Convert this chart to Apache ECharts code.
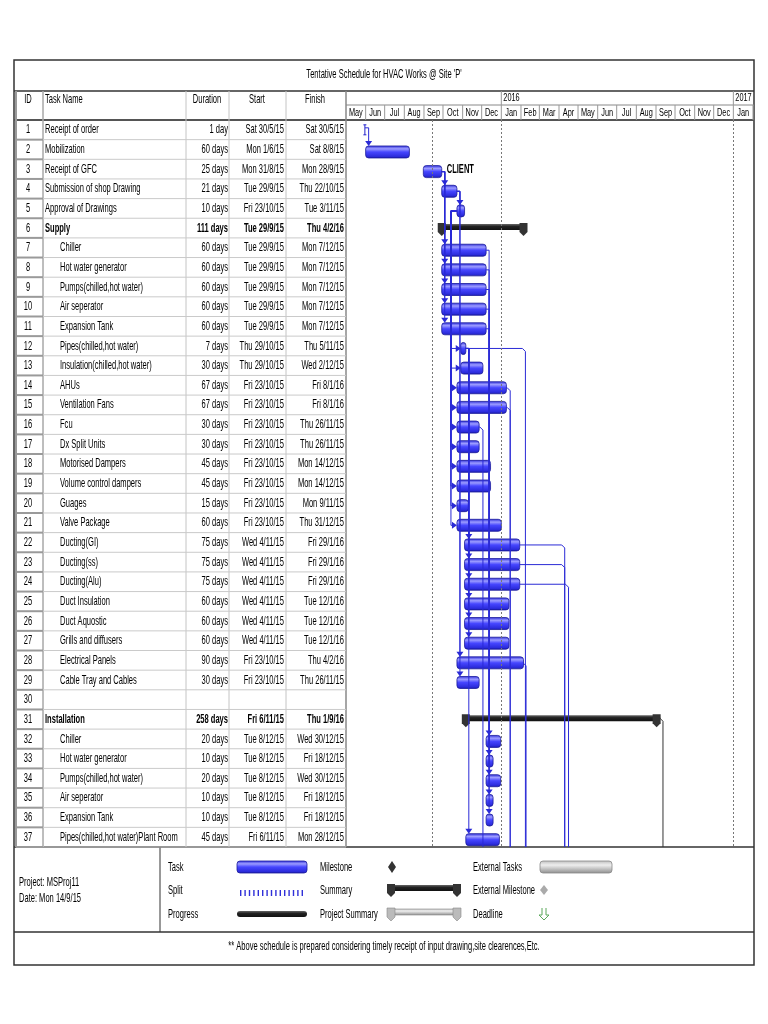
<!DOCTYPE html>
<html><head><meta charset="utf-8">
<script src="https://cdn.jsdelivr.net/npm/echarts@6/dist/echarts.min.js"></script>
<style>html,body{margin:0;padding:0;background:#fff}#c{width:768px;height:1024px}</style>
</head><body><div id="c"></div>
<script>
// ---------------- DATA ----------------
const title = "Tentative Schedule for HVAC Works @ Site 'P'";
const ids = ['1','2','3','4','5','6','7','8','9','10','11','12','13','14','15','16','17','18','19','20','21','22','23','24','25','26','27','28','29','30','31','32','33','34','35','36','37'];
const names = ['Receipt of order','Mobilization','Receipt of GFC','Submission of shop Drawing','Approval of Drawings','Supply',
 'Chiller','Hot water generator','Pumps(chilled,hot water)','Air seperator','Expansion Tank','Pipes(chilled,hot water)',
 'Insulation(chilled,hot water)','AHUs','Ventilation Fans','Fcu','Dx Split Units','Motorised Dampers','Volume control dampers',
 'Guages','Valve Package','Ducting(GI)','Ducting(ss)','Ducting(Alu)','Duct Insulation','Duct Aquostic','Grills and diffusers',
 'Electrical Panels','Cable Tray and Cables','','Installation','Chiller','Hot water generator','Pumps(chilled,hot water)',
 'Air seperator','Expansion Tank','Pipes(chilled,hot water)Plant Room'];
const levels = [0,0,0,0,0,0,1,1,1,1,1,1,1,1,1,1,1,1,1,1,1,1,1,1,1,1,1,1,1,0,0,1,1,1,1,1,1];
const summaryRows = [6,31];
const durations = ['1 day','60 days','25 days','21 days','10 days','111 days','60 days','60 days','60 days','60 days','60 days',
 '7 days','30 days','67 days','67 days','30 days','30 days','45 days','45 days','15 days','60 days','75 days','75 days','75 days',
 '60 days','60 days','60 days','90 days','30 days','','258 days','20 days','10 days','20 days','10 days','10 days','45 days'];
const starts = ['Sat 30/5/15','Mon 1/6/15','Mon 31/8/15','Tue 29/9/15','Fri 23/10/15','Tue 29/9/15','Tue 29/9/15','Tue 29/9/15',
 'Tue 29/9/15','Tue 29/9/15','Tue 29/9/15','Thu 29/10/15','Thu 29/10/15','Fri 23/10/15','Fri 23/10/15','Fri 23/10/15',
 'Fri 23/10/15','Fri 23/10/15','Fri 23/10/15','Fri 23/10/15','Fri 23/10/15','Wed 4/11/15','Wed 4/11/15','Wed 4/11/15',
 'Wed 4/11/15','Wed 4/11/15','Wed 4/11/15','Fri 23/10/15','Fri 23/10/15','','Fri 6/11/15','Tue 8/12/15','Tue 8/12/15',
 'Tue 8/12/15','Tue 8/12/15','Tue 8/12/15','Fri 6/11/15'];
const finishes = ['Sat 30/5/15','Sat 8/8/15','Mon 28/9/15','Thu 22/10/15','Tue 3/11/15','Thu 4/2/16','Mon 7/12/15','Mon 7/12/15',
 'Mon 7/12/15','Mon 7/12/15','Mon 7/12/15','Thu 5/11/15','Wed 2/12/15','Fri 8/1/16','Fri 8/1/16','Thu 26/11/15','Thu 26/11/15',
 'Mon 14/12/15','Mon 14/12/15','Mon 9/11/15','Thu 31/12/15','Fri 29/1/16','Fri 29/1/16','Fri 29/1/16','Tue 12/1/16','Tue 12/1/16',
 'Tue 12/1/16','Thu 4/2/16','Thu 26/11/15','','Thu 1/9/16','Wed 30/12/15','Fri 18/12/15','Wed 30/12/15','Fri 18/12/15',
 'Fri 18/12/15','Mon 28/12/15'];
const resources = {3:'CLIENT'};
const fsLinks = [[1,2],[3,4],[4,5],[3,7],[3,8],[3,9],[3,10],[3,11],[4,28],[4,29],[12,22],[12,23],[12,24],[12,25],[12,26],[12,27],[12,37],[7,32],[8,33],[9,34],[10,35],[11,36]];
const ssLinks = [[5,12],[5,13],[5,14],[5,15],[5,16],[5,17],[5,18],[5,19],[5,20],[5,21]];
const exitLinks = [[12,'2016-02-08'],[28,'2016-02-09'],[14,'2016-01-15'],[15,'2016-01-15'],[16,'2015-12-03'],[22,'2016-04-10'],[23,'2016-04-10'],[24,'2016-04-16'],[31,'2016-09-12']];
const monthLabels = ['May','Jun','Jul','Aug','Sep','Oct','Nov','Dec','Jan','Feb','Mar','Apr','May','Jun','Jul','Aug','Sep','Oct','Nov','Dec','Jan'];
const yearLabels = ['','2016','2017'];
const yearStarts = ['2015-05-01','2016-01-01','2017-01-01'];
const markerDates = ['2015-09-14','2016-01-01','2017-01-01'];
const axisStart = '2015-05-01', axisEnd = '2017-02-01';
const projectInfo = ['Project: MSProj11','Date: Mon 14/9/15'];
const footnote = '** Above schedule is prepared considering timely receipt of input drawing,site clearences,Etc.';

// ---------------- HELPERS ----------------
function ms(s){const p=s.split('-');return new Date(+p[0],+p[1]-1,+p[2]).getTime();}
function parseD(s,plus){const p=s.split(' ')[1].split('/');return new Date(2000+ +p[2],+p[1]-1,+p[0]+(plus||0)).getTime();}
const xMin = ms(axisStart), xMax = ms(axisEnd);
const FONT = "'Liberation Sans', Arial, sans-serif";
const SX = 0.58;
function T(text,x,y,o){o=o||{};return {type:'text',x:x,y:y,scaleX:o.sx||SX,silent:true,z2:20,
 style:{text:text,x:0,y:0,fill:o.color||'#000',fontFamily:FONT,fontSize:o.size||13,fontWeight:o.bold?'bold':'normal',
 align:o.align||'left',verticalAlign:'middle'}};}
function L(x1,y1,x2,y2,c,w,dash){return {type:'line',silent:true,shape:{x1,y1,x2,y2},style:{stroke:c||'#444',lineWidth:w||1,lineDash:dash||null}};}
function blueGrad(){return new echarts.graphic.LinearGradient(0,0,0,1,[{offset:0,color:'#2727d8'},{offset:0.25,color:'#9c9cff'},{offset:0.5,color:'#4646ff'},{offset:0.85,color:'#2c2cdc'},{offset:1,color:'#1a1aa2'}]);}
function darkGrad(){return new echarts.graphic.LinearGradient(0,0,0,1,[{offset:0,color:'#666'},{offset:0.4,color:'#222'},{offset:1,color:'#111'}]);}
function greyGrad(){return new echarts.graphic.LinearGradient(0,0,0,1,[{offset:0,color:'#bdbdbd'},{offset:0.35,color:'#eeeeee'},{offset:1,color:'#8d8d8d'}]);}
function taskBar(x1,x2,yc,h){return {type:'rect',shape:{x:x1,y:yc-h/2,width:Math.max(x2-x1,2),height:h,r:3},style:{fill:blueGrad(),stroke:'#1c1c9c',lineWidth:0.8}};}
function summaryShape(x1,x2,yc,fill,capFill,stroke){
  const cap=x=>({type:'polygon',shape:{points:[[x-4,yc-5],[x+4,yc-5],[x+4,yc+4],[x,yc+8],[x-4,yc+4]]},style:{fill:capFill,stroke:stroke||null,lineWidth:0.6}});
  return [{type:'rect',shape:{x:x1,y:yc-4,width:x2-x1,height:6},style:{fill:fill,stroke:stroke||null,lineWidth:0.6}},cap(x1),cap(x2)];
}
const BAR_OFF = 2.5, BAR_H = 12;
const LINK = '#2a2ad6';

const chart = echarts.init(document.getElementById('c'));

function barInfo(api,r){
  const i=r-1;const s=api.coord([parseD(starts[i]),i]);const e=api.coord([parseD(finishes[i],1),i]);
  return {s:s[0],e:e[0],y:s[1]+BAR_OFF,top:s[1]+BAR_OFF-BAR_H/2};
}
function downArrow(x,yTip){return {type:'polygon',shape:{points:[[x-3.5,yTip-5],[x+3.5,yTip-5],[x,yTip]]},style:{fill:LINK}};}
function rightArrow(xTip,y){return {type:'polygon',shape:{points:[[xTip-5,y-3.5],[xTip-5,y+3.5],[xTip,y]]},style:{fill:LINK}};}
function poly(pts,c){return {type:'polyline',shape:{points:pts},style:{stroke:c||LINK,lineWidth:1,fill:null}};}

const barRows = ids.map((id,i)=>i).filter(i=>starts[i]!=='');
const allLinks = fsLinks.map(l=>['FS',l[0],l[1]]).concat(ssLinks.map(l=>['SS',l[0],l[1]])).concat(exitLinks.map(l=>['EX',l[0],l[1]]));

// frame / static layout
const G = [];
G.push({type:'rect',shape:{x:14,y:60,width:740,height:905},style:{fill:null,stroke:'#333',lineWidth:1.5},silent:true});
G.push(L(14,91,754,91,'#333',1.5));
G.push(L(14,120,754,120,'#555',2));
G.push(L(14,847,754,847,'#333',1.5));
G.push(L(14,932,754,932,'#333',1.5));
G.push(L(160,847,160,932,'#333',1));
G.push(L(346,105,754,105,'#888',1));
[43,186,229,286].forEach(x=>G.push(L(x,91,x,847,'#c4c4c4',1)));
G.push(L(16,91,16,847,'#9a9a9a',2));
G.push(L(43,91,43,847,'#9a9a9a',1));
G.push(L(346,91,346,847,'#888',1.5));
G.push(T(title,384,74,{align:'center'}));
G.push(T('ID',28,99,{align:'center'}));
G.push(T('Task Name',45,99));
G.push(T('Duration',207,99,{align:'center'}));
G.push(T('Start',257,99,{align:'center'}));
G.push(T('Finish',315,99,{align:'center'}));
G.push(T(projectInfo[0],19,882));
G.push(T(projectInfo[1],19,898));
G.push(T(footnote,384,946,{align:'center'}));
// legend
G.push(T('Task',168,867));G.push(T('Split',168,890));G.push(T('Progress',168,914));
G.push(T('Milestone',320,867));G.push(T('Summary',320,890));G.push(T('Project Summary',320,914));
G.push(T('External Tasks',473,867));G.push(T('External Milestone',473,890));G.push(T('Deadline',473,914));
G.push(Object.assign(taskBar(237,307,867,12),{silent:true}));
G.push({type:'line',silent:true,shape:{x1:240,y1:893,x2:306,y2:893},style:{stroke:'#3030d8',lineWidth:6,lineDash:[1.4,3]}});
G.push({type:'rect',silent:true,shape:{x:237,y:911,width:70,height:6,r:3},style:{fill:darkGrad()}});
G.push({type:'polygon',silent:true,shape:{points:[[392,861],[396,867],[392,873],[388,867]]},style:{fill:'#333'}});
summaryShape(391,457,889,darkGrad(),'#333').forEach(e=>{e.silent=true;G.push(e);});
summaryShape(391,457,913,greyGrad(),'#bbb','#888').forEach(e=>{e.silent=true;G.push(e);});
G.push({type:'rect',silent:true,shape:{x:540,y:861,width:72,height:12,r:3},style:{fill:greyGrad(),stroke:'#888',lineWidth:0.8}});
G.push({type:'polygon',silent:true,shape:{points:[[544,885],[548,890],[544,895],[540,890]]},style:{fill:'#aaa'}});
G.push({type:'polyline',silent:true,shape:{points:[[542,908],[542,915],[539,915],[544,920],[549,915],[546,915],[546,908]]},style:{stroke:'#5aa85a',lineWidth:1,fill:null}});

const option = {
  animation:false,
  backgroundColor:'#fff',
  grid:{left:346,top:120,width:407,height:727,containLabel:false},
  xAxis:{type:'time',min:xMin,max:xMax,show:false},
  yAxis:{type:'category',inverse:true,data:ids,show:false},
  graphic:{elements:G},
  series:[
    { // table body
      type:'custom',clip:false,silent:true,z:2,
      data:ids.map((id,i)=>[xMin,i]),encode:{x:0,y:1},
      renderItem(params,api){
        const i=params.dataIndex;const yc=api.coord([xMin,i])[1];const h=api.size([0,1])[1];
        const bold=summaryRows.includes(i+1);
        return {type:'group',children:[
          L(16,yc+h/2,43,yc+h/2,'#9a9a9a',2),
          L(43,yc+h/2,346,yc+h/2,'#cacaca',1),
          T(ids[i],28,yc,{align:'center'}),
          T(names[i],levels[i]?60:45,yc,{bold}),
          T(durations[i],228,yc,{align:'right',bold}),
          T(starts[i],284,yc,{align:'right',bold}),
          T(finishes[i],344,yc,{align:'right',bold})
        ]};
      }
    },
    { // month header
      type:'custom',clip:false,silent:true,z:2,
      data:monthLabels.map((m,k)=>[new Date(2015,4+k,1).getTime(),new Date(2015,5+k,1).getTime(),0]),
      encode:{x:[0,1],y:2},
      renderItem(params,api){
        const x0=api.coord([api.value(0),0])[0],x1=api.coord([api.value(1),0])[0];
        return {type:'group',children:[
          L(x1,105,x1,120,'#999',1),
          T(monthLabels[params.dataIndex],(x0+x1)/2,113,{align:'center',size:10.5,sx:0.7})
        ]};
      }
    },
    { // year header
      type:'custom',clip:false,silent:true,z:2,
      data:yearStarts.map(s=>[ms(s),0]),encode:{x:0,y:1},
      renderItem(params,api){
        const x0=Math.max(api.coord([api.value(0),0])[0],346);
        const ch=[T(yearLabels[params.dataIndex],x0+2,98,{size:10.5,sx:0.7})];
        if(x0>347) ch.push(L(x0,91,x0,105,'#999',1));
        return {type:'group',children:ch};
      }
    },
    { // markers
      type:'line',data:[],silent:true,
      markLine:{silent:true,symbol:['none','none'],label:{show:false},
        lineStyle:{color:'#777',type:[2,2],width:1},
        data:markerDates.map(d=>({xAxis:ms(d)}))}
    },
    { // task bars
      type:'custom',z:3,silent:true,clip:false,
      data:barRows.map(i=>[parseD(starts[i]),parseD(finishes[i],1),i]),
      encode:{x:[0,1],y:2},
      renderItem(params,api){
        const i=api.value(2);const r=i+1;
        const s=api.coord([api.value(0),i]),e=api.coord([api.value(1),i]);
        const yc=s[1];
        const ch=[];
        if(summaryRows.includes(r)){
          summaryShape(s[0],e[0],yc,darkGrad(),'#333').forEach(x=>ch.push(x));
        } else if(e[0]-s[0]<2){
          const x=s[0];
          ch.push(poly([[x-1,yc-5],[x+2,yc-5]],'#2222cc'));
          ch.push(poly([[x+0.5,yc-5],[x+0.5,yc+5]],'#2222cc'));
          ch.push(poly([[x-1,yc+5],[x+2,yc+5]],'#2222cc'));
        } else {
          ch.push(taskBar(s[0],e[0],yc+BAR_OFF,BAR_H));
        }
        if(resources[r]) ch.push(T(resources[r],e[0]+5,yc,{bold:true}));
        return {type:'group',children:ch};
      }
    },
    { // links
      type:'custom',z:4,silent:true,clip:true,
      data:allLinks.map((l,k)=>[xMin,0,k]),encode:{x:0,y:1},
      renderItem(params,api){
        const l=allLinks[params.dataIndex];
        const p=barInfo(api,l[1]);
        const ch=[];
        if(l[0]==='FS'){
          const q=barInfo(api,l[2]);
          const single=p.e-p.s<2;
          const py=single? p.y-BAR_OFF-2 : p.y;
          const xL=Math.max(p.e,q.s)+3;
          ch.push(poly([[p.e,py],[xL,py],[xL,q.top-4]]));
          ch.push(downArrow(xL,q.top));
        } else if(l[0]==='SS'){
          const q=barInfo(api,l[2]);
          const xL=Math.min(p.s,q.s)-6;
          ch.push(poly([[p.s,p.y],[xL,p.y],[xL,q.y],[q.s-4,q.y]]));
          ch.push(rightArrow(q.s,q.y));
        } else {
          const isSum=summaryRows.includes(l[1]);
          const x0=isSum?p.e+4:p.e, y0=isSum?p.y-BAR_OFF-1:p.y;
          const xd=api.coord([ms(l[2]),0])[0];
          ch.push(poly([[x0,y0],[xd-3,y0],[xd,y0+3],[xd,900]],isSum?'#333':LINK));
        }
        return {type:'group',children:ch};
      }
    }
  ]
};
chart.setOption(option);
</script>
</body></html>
